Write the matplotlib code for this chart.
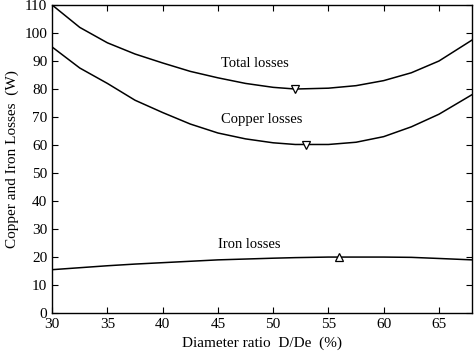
import matplotlib
matplotlib.use("Agg")
import matplotlib.pyplot as plt
import numpy as np

plt.rcParams['font.family'] = ['Liberation Serif', 'DejaVu Serif']

# values
ratio = [30, 32.5, 35, 37.5, 40, 42.5, 45, 47.5, 50, 52, 55, 57.5, 60, 62.5, 65, 68]
total_losses = [110, 102, 96.5, 92.5, 89.3, 86.3, 84, 82, 80.6, 80, 80.3, 81.2, 83, 85.8, 90, 97.5]
copper_losses = [95, 87.5, 82, 76, 71.6, 67.5, 64.3, 62.2, 60.8, 60.2, 60.2, 61, 63, 66.5, 71, 78]
iron_losses = [15.5, 16.2, 16.9, 17.5, 18, 18.5, 19, 19.3, 19.6, 19.8, 20, 20, 20, 19.9, 19.5, 19]

total_min = (52, 80)
copper_min = (53, 60)
iron_max = (56, 20)

fig = plt.figure(figsize=(4.74, 3.57), dpi=100)
ax = fig.add_axes([0.11, 0.123, 0.886, 0.863])

for y in (total_losses, copper_losses, iron_losses):
    ax.plot(ratio, y, 'k-', lw=1.1)

ax.plot(*total_min, 'v', mfc='white', mec='k', ms=6, mew=0.9)
ax.plot(*copper_min, 'v', mfc='white', mec='k', ms=6, mew=0.9)
ax.plot(*iron_max, '^', mfc='white', mec='k', ms=6, mew=0.9)

ax.text(48.3, 89, 'Total losses', ha='center', va='center', fontsize=10.5)
ax.text(49, 69, 'Copper losses', ha='center', va='center', fontsize=10.5)
ax.text(47.8, 24.5, 'Iron losses', ha='center', va='center', fontsize=10.5)

ax.set_xlim(30, 68)
ax.set_ylim(0, 110)
ax.set_xticks(range(30, 66, 5))
ax.set_yticks(range(0, 111, 10))
ax.tick_params(direction='in', top=True, right=True, labelsize=11, length=4)
for s in ax.spines.values():
    s.set_linewidth(1.0)
ax.set_xlabel('Diameter ratio  D/De  (%)', fontsize=11)
ax.set_ylabel('Copper and Iron Losses  (W)', fontsize=11)

fig.savefig('out.png', dpi=100)
